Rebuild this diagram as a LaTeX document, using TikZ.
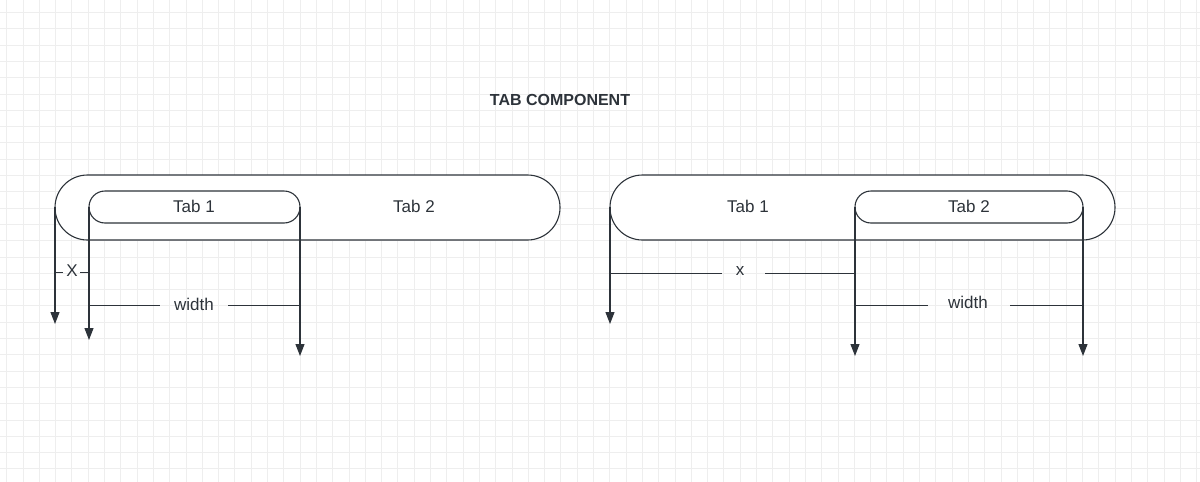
\documentclass[tikz,border=0pt]{standalone}
\usepackage{fontspec}
\setmainfont{Liberation Sans}
\usetikzlibrary{arrows.meta}
\definecolor{ink}{HTML}{2D333A}
\definecolor{gridc}{HTML}{EEEEEE}
\tikzset{
    pill/.style={draw=ink,rounded corners=#1,line width=1.1pt},
    dim/.style={-{Triangle[length=12pt,width=9pt]},draw=ink,line width=1.1pt},
    ln/.style={draw=ink,line width=1pt},
    lbl/.style={text=ink,font=\fontsize{17}{17}\selectfont,inner sep=1pt}
    }
\begin{document}
\begin{tikzpicture}[x=1pt,y=-1pt]
        \useasboundingbox (0,0) rectangle (1200,482);
        % grid
        \foreach \i in {0,...,74} {
            \draw[gridc,line width=0.6pt] (6.5+16.3*\i,0) -- (6.5+16.3*\i,482);
        }
        \foreach \i in {0,...,30} {
            \draw[gridc,line width=0.6pt] (0,-4+16.3*\i) -- (1200,-4+16.3*\i);
        }

        \node[text=ink,font=\bfseries\fontsize{16}{16}\selectfont] (title) at (560,100) {TAB COMPONENT};

        % left bar
        \draw[pill=32.5pt,fill=white] (55,175) rectangle (560,240);
        \draw[pill=16pt] (89,191) rectangle (300,223);
        \node[lbl] (l1) at (194,206) {Tab 1};
        \node[lbl] (l2) at (414,206) {Tab 2};
        \coordinate (la) at (55,207);
        \coordinate (lb) at (89,207);
        \coordinate (lc) at (300,207);
        \draw[dim] (la) -- (55,324);
        \draw[dim] (lb) -- (89,340);
        \draw[dim] (lc) -- (300,356);
        \node[lbl] (lx) at (72,271) {X};
        \draw[ln] (55,272) -- (63,272);
        \draw[ln] (80,272) -- (89,272);
        \node[lbl] (lw) at (194,304) {width};
        \draw[ln] (89,305) -- (160,305);
        \draw[ln] (228,305) -- (300,305);

        % right bar
        \draw[pill=32.5pt,fill=white] (610,175) rectangle (1115,240);
        \draw[pill=16pt] (855,191) rectangle (1083,223);
        \node[lbl] (r1) at (748,206) {Tab 1};
        \node[lbl] (r2) at (969,206) {Tab 2};
        \coordinate (ra) at (610,207);
        \coordinate (rb) at (855,207);
        \coordinate (rc) at (1083,207);
        \draw[dim] (ra) -- (610,324);
        \draw[dim] (rb) -- (855,356);
        \draw[dim] (rc) -- (1083,356);
        \node[lbl] (rx) at (740,271) {x};
        \draw[ln] (610,273) -- (722,273);
        \draw[ln] (765,273) -- (855,273);
        \node[lbl] (rw) at (968,302) {width};
        \draw[ln] (855,305) -- (928,305);
        \draw[ln] (1010,305) -- (1083,305);
\end{tikzpicture}
\end{document}
